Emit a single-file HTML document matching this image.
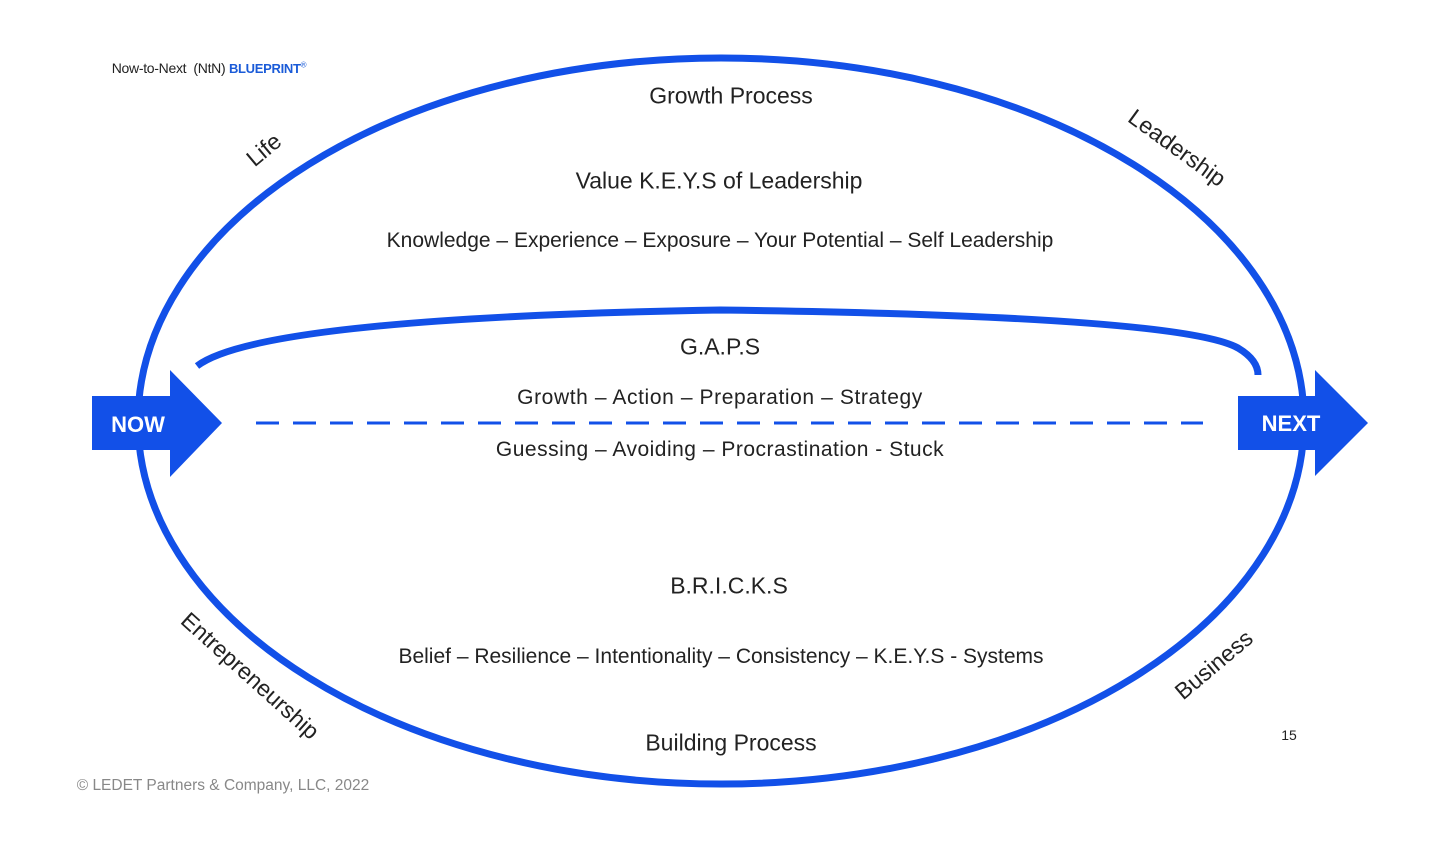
<!DOCTYPE html>
<html><head><meta charset="utf-8"><style>
body{margin:0;background:#fff;width:1442px;height:844px;overflow:hidden;position:relative;font-family:"Liberation Sans",sans-serif;color:#222}
.t{position:absolute;white-space:nowrap;transform:translate(-50%,-50%);font-size:23px}
.s{font-size:21px}
</style></head><body>
<svg width="1442" height="844" style="position:absolute;left:0;top:0">
<ellipse cx="721" cy="421" rx="583" ry="363" fill="none" stroke="#1250e8" stroke-width="7"/>
<path d="M197,366 Q260,318 720,310 Q1180,316 1238,348 Q1258,360 1258,375" fill="none" stroke="#1250e8" stroke-width="7"/>
<line x1="256" y1="423" x2="1203" y2="423" stroke="#1250e8" stroke-width="3" stroke-dasharray="23,14"/>
<polygon points="92,396 170,396 170,370 222,423 170,477 170,450 92,450" fill="#1250e8"/>
<polygon points="1238,396 1315,396 1315,370 1368,423 1315,476 1315,450 1238,450" fill="#1250e8"/>
<text x="138" y="432" fill="#fff" font-family="Liberation Sans" font-weight="bold" font-size="22" text-anchor="middle">NOW</text>
<text x="1291" y="431" fill="#fff" font-family="Liberation Sans" font-weight="bold" font-size="22" text-anchor="middle">NEXT</text>
</svg>
<div class="t" style="left:209px;top:68px;font-size:14px;letter-spacing:-0.3px">Now-to-Next&nbsp; (NtN) <b style="color:#1a5bd8;font-size:13px">BLUEPRINT</b><sup style="color:#1a5bd8;font-size:8px">®</sup></div>
<div class="t" style="left:731px;top:96px">Growth Process</div>
<div class="t" style="left:719px;top:181px">Value K.E.Y.S of Leadership</div>
<div class="t s" style="left:720px;top:241px">Knowledge – Experience – Exposure – Your Potential – Self Leadership</div>
<div class="t" style="left:720px;top:347px">G.A.P.S</div>
<div class="t s" style="left:720px;top:398px;letter-spacing:0.6px">Growth – Action – Preparation – Strategy</div>
<div class="t s" style="left:720px;top:450px;letter-spacing:0.5px">Guessing – Avoiding – Procrastination - Stuck</div>
<div class="t" style="left:729px;top:586px">B.R.I.C.K.S</div>
<div class="t s" style="left:721px;top:657px">Belief – Resilience – Intentionality – Consistency – K.E.Y.S - Systems</div>
<div class="t" style="left:731px;top:743px">Building Process</div>
<div class="t" style="left:264px;top:150px;transform:translate(-50%,-50%) rotate(-40deg)">Life</div>
<div class="t" style="left:1177px;top:148px;transform:translate(-50%,-50%) rotate(36deg)">Leadership</div>
<div class="t" style="left:250px;top:676px;transform:translate(-50%,-50%) rotate(42deg)">Entrepreneurship</div>
<div class="t" style="left:1214px;top:665px;transform:translate(-50%,-50%) rotate(-40deg)">Business</div>
<div class="t" style="left:1289px;top:735px;font-size:14px">15</div>
<div class="t" style="left:223px;top:786px;font-size:15.5px;color:#888">© LEDET Partners &amp; Company, LLC, 2022</div>
</body></html>
